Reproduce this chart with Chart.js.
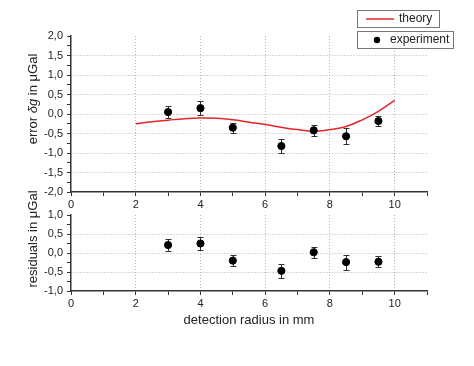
<!DOCTYPE html>
<html>
<head>
<meta charset="utf-8">
<script src="https://cdn.jsdelivr.net/npm/chart.js@4.4.1/dist/chart.umd.min.js"></script>
<style>
  body { margin: 0; background: #fff; }
  #wrap { position: relative; width: 474px; height: 366px; }
  #wrap canvas { position: absolute; left: 0; }
</style>
</head>
<body>
<div id="wrap">
  <canvas id="errChart" width="474" height="215" style="top:0"></canvas>
  <canvas id="resChart" width="474" height="170" style="top:180px"></canvas>
</div>
<script>
// measured points (detection radius in mm)
var radius = [3, 4, 5, 6.5, 7.5, 8.5, 9.5];
var errorValues = [0.05, 0.15, -0.35, -0.82, -0.42, -0.57, -0.18];
var errorUnc = [0.16, 0.18, 0.13, 0.18, 0.14, 0.20, 0.14];
var residualValues = [0.21, 0.25, -0.20, -0.47, 0.02, -0.24, -0.23];
var residualUnc = [0.17, 0.18, 0.14, 0.18, 0.15, 0.20, 0.14];

// theory curve
var theoryRadius = [2, 2.5, 3, 3.5, 4, 4.5, 5, 5.5, 6, 6.5, 7, 7.5, 8, 8.5, 9, 9.5, 10];
var theoryValues = [-0.25, -0.20, -0.16, -0.12, -0.10, -0.11, -0.15, -0.21, -0.27, -0.34, -0.40, -0.44, -0.40, -0.32, -0.15, 0.07, 0.35];

var xTickLabels = ['0', '2', '4', '6', '8', '10'];

Chart.defaults.font.family = '"Liberation Sans", Arial, sans-serif';
Chart.defaults.color = '#222';

function pairs(xs, ys) {
    return xs.map(function (x, i) { return { x: x, y: ys[i] }; });
}

function isHalf(v) {
    return Math.abs(v * 2 - Math.round(v * 2)) < 1e-6;
}

// error bars, drawn under the dots
var errorBars = {
    id: 'errorBars',
    beforeDatasetsDraw: function (chart) {
        var ctx = chart.ctx;
        var yScale = chart.scales.y;
        chart.data.datasets.forEach(function (ds, i) {
            if (!ds.errors) return;
            var meta = chart.getDatasetMeta(i);
            ctx.save();
            ctx.strokeStyle = '#333';
            ctx.lineWidth = 1;
            meta.data.forEach(function (pt, j) {
                var v = ds.data[j].y, e = ds.errors[j];
                var x = Math.round(pt.x) + 0.5;
                var top = Math.round(yScale.getPixelForValue(v + e)) + 0.5;
                var bot = Math.round(yScale.getPixelForValue(v - e)) + 0.5;
                ctx.beginPath();
                ctx.moveTo(x, top); ctx.lineTo(x, bot);
                ctx.moveTo(x - 3, top); ctx.lineTo(x + 3, top);
                ctx.moveTo(x - 3, bot); ctx.lineTo(x + 3, bot);
                ctx.stroke();
            });
            ctx.restore();
        });
    }
};

// rotated y title with an italic part
var yTitle = {
    id: 'yTitle',
    afterDraw: function (chart, args, opts) {
        if (!opts.parts) return;
        var ctx = chart.ctx;
        ctx.save();
        ctx.translate(opts.x, opts.y);
        ctx.rotate(-Math.PI / 2);
        ctx.fillStyle = '#222';
        ctx.textBaseline = 'middle';
        var fonts = opts.parts.map(function (p) {
            return (p.italic ? 'italic ' : '') + '13px "Liberation Sans", Arial, sans-serif';
        });
        var total = 0;
        opts.parts.forEach(function (p, i) { ctx.font = fonts[i]; total += ctx.measureText(p.text).width; });
        var cx = -total / 2;
        opts.parts.forEach(function (p, i) {
            ctx.font = fonts[i];
            ctx.fillText(p.text, cx, 0);
            cx += ctx.measureText(p.text).width;
        });
        ctx.restore();
    }
};

// boxed legend entries in the top right corner
var boxLegend = {
    id: 'boxLegend',
    afterDraw: function (chart) {
        var ctx = chart.ctx;
        ctx.save();
        ctx.font = '12px "Liberation Sans", Arial, sans-serif';
        ctx.textBaseline = 'middle';
        ctx.lineWidth = 1;

        ctx.fillStyle = '#fff';
        ctx.strokeStyle = '#777';
        ctx.fillRect(357.5, 10.5, 82, 17);
        ctx.strokeRect(357.5, 10.5, 82, 17);
        ctx.strokeStyle = '#e2262b';
        ctx.lineWidth = 1.5;
        ctx.beginPath();
        ctx.moveTo(366, 19); ctx.lineTo(394, 19);
        ctx.stroke();
        ctx.fillStyle = '#222';
        ctx.fillText('theory', 399, 19);

        ctx.lineWidth = 1;
        ctx.fillStyle = '#fff';
        ctx.strokeStyle = '#777';
        ctx.fillRect(357.5, 31.5, 96, 17);
        ctx.strokeRect(357.5, 31.5, 96, 17);
        ctx.fillStyle = '#000';
        ctx.beginPath();
        ctx.arc(377, 40, 3.2, 0, Math.PI * 2);
        ctx.fill();
        ctx.fillStyle = '#222';
        ctx.fillText('experiment', 390, 40);
        ctx.restore();
    }
};

function xAxis(fitHeight, title) {
    return {
        type: 'linear',
        min: 0,
        max: 11,
        afterFit: function (scale) { scale.height = fitHeight; },
        ticks: {
            stepSize: 1,
            autoSkip: false,
            maxRotation: 0,
            padding: 2,
            font: { size: 11 },
            callback: function (v) { return v % 2 === 0 ? xTickLabels[v / 2] : ''; }
        },
        grid: {
            color: function (c) {
                var v = c.tick ? c.tick.value : 0;
                return (v > 0 && v <= 10 && v % 2 === 0) ? '#b4b4b4' : 'rgba(0,0,0,0)';
            },
            tickLength: 4,
            tickColor: '#333',
            tickBorderDash: []
        },
        // in v4 the grid line dash lives on the border options
        border: { display: true, color: '#333', width: 1.5, dash: [1, 2] },
        title: title
    };
}

function yAxis(limit) {
    return {
        min: -limit,
        max: limit,
        afterFit: function (scale) { scale.width = 71; },
        ticks: {
            stepSize: 0.25,
            autoSkip: false,
            padding: 4,
            font: { size: 11 },
            callback: function (v) {
                if (!isHalf(v)) return '';
                var s = (Math.round(v * 10) / 10).toFixed(1).replace('.', ',');
                return s === '-0,0' ? '0,0' : s;
            }
        },
        grid: {
            color: function (c) {
                var v = c.tick ? c.tick.value : 0;
                return (isHalf(v) && Math.abs(v) < limit - 0.01) ? '#b4b4b4' : 'rgba(0,0,0,0)';
            },
            tickLength: 4,
            tickColor: '#333',
            tickBorderDash: []
        },
        border: { display: true, color: '#333', width: 1.5, dash: [1, 2] }
    };
}

var pointStyle = {
    pointRadius: 3.6,
    pointBackgroundColor: '#000',
    pointBorderColor: '#000',
    showLine: false
};

// upper panel: error and theory
var errChart = new Chart(document.getElementById('errChart'), {
    type: 'scatter',
    data: {
        datasets: [
            Object.assign({
                label: 'experiment',
                data: pairs(radius, errorValues),
                errors: errorUnc
            }, pointStyle),
            {
                label: 'theory',
                data: pairs(theoryRadius, theoryValues),
                showLine: true,
                borderColor: '#e2262b',
                borderWidth: 1.5,
                pointRadius: 0,
                tension: 0.4
            }
        ]
    },
    options: {
        responsive: false,
        animation: false,
        layout: { padding: { top: 36, right: 47, left: 0, bottom: 0 } },
        scales: {
            x: xAxis(23),
            y: yAxis(2)
        },
        plugins: {
            legend: { display: false },
            tooltip: { enabled: false },
            yTitle: {
                x: 33, y: 99,
                parts: [{ text: 'error ' }, { text: 'δg', italic: true }, { text: ' in μGal' }]
            }
        }
    },
    plugins: [errorBars, yTitle, boxLegend]
});

// lower panel: residuals
var resChart = new Chart(document.getElementById('resChart'), {
    type: 'scatter',
    data: {
        datasets: [
            Object.assign({
                label: 'residuals',
                data: pairs(radius, residualValues),
                errors: residualUnc
            }, pointStyle)
        ]
    },
    options: {
        responsive: false,
        animation: false,
        layout: { padding: { top: 35, right: 47, left: 0, bottom: 18 } },
        scales: {
            x: xAxis(41, {
                display: true,
                text: 'detection radius in mm',
                font: { size: 13 },
                color: '#222',
                padding: { top: 0, bottom: 4 }
            }),
            y: yAxis(1)
        },
        plugins: {
            legend: { display: false },
            tooltip: { enabled: false },
            yTitle: {
                x: 33, y: 59,
                parts: [{ text: 'residuals in μGal' }]
            }
        }
    },
    plugins: [errorBars, yTitle]
});
</script>
</body>
</html>
